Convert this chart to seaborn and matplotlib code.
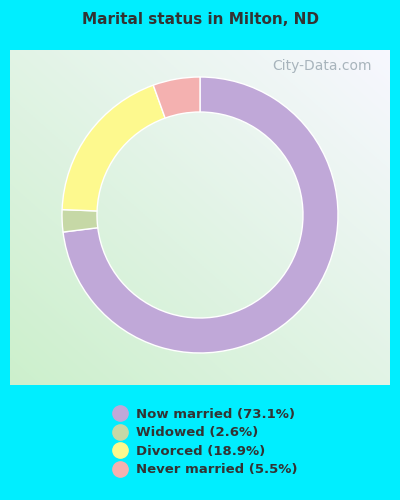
import numpy as np
import matplotlib.pyplot as plt
import seaborn as sns
from matplotlib.lines import Line2D

sns.set_theme(style="white")
plt.rcParams['font.family'] = ['DejaVu Sans']

labels = ["Now married", "Widowed", "Divorced", "Never married"]
shares = [73.1, 2.6, 18.9, 5.5]
colors = ["#c0a8d8", "#c6d8a6", "#fdf98e", "#f4b1b0"]

W, H = 400, 500
fig = plt.figure(figsize=(4, 5), dpi=100, facecolor="#00eeff")

# gradient panel: green bottom-left, near white top-right
bg = fig.add_axes([10 / W, 1 - 385 / H, 380 / W, 335 / H])
yy, xx = np.mgrid[0:1:200j, 0:1:200j]
t = np.clip((xx + yy) / 2, 0, 1)
c0 = np.array([0.80, 0.94, 0.80])
c1 = np.array([0.97, 0.97, 1.0])
img = c0[None, None, :] * (1 - t[..., None]) + c1[None, None, :] * t[..., None]
bg.imshow(img, origin="lower", aspect="auto", extent=[0, 1, 0, 1])
bg.set_axis_off()

# donut
r = 138
ax = fig.add_axes([(200 - r) / W, 1 - (215 + r) / H, 2 * r / W, 2 * r / H])
ax.pie(shares, colors=colors, startangle=90, counterclock=False,
       wedgeprops=dict(width=35 / 138, edgecolor="white", linewidth=1),
       radius=1)
ax.set_aspect("equal")
ax.set_xlim(-1, 1)
ax.set_ylim(-1, 1)

fig.text(0.5, 1 - 20 / H, "Marital status in Milton, ND", ha="center", va="center",
         fontsize=11, fontweight="bold", color="#333333")
fig.text(372 / W, 1 - 66 / H, "City-Data.com", ha="right", va="center",
         fontsize=10, color="#a8b4bc")

handles = [Line2D([], [], marker="o", linestyle="", markersize=11,
                  markerfacecolor=c, markeredgecolor=c) for c in colors]
leg_labels = [f"{l} ({s}%)" for l, s in zip(labels, shares)]
fig.legend(handles, leg_labels, loc="upper left", bbox_to_anchor=(95 / W, 1 - 396 / H),
           frameon=False, handletextpad=0.2, labelspacing=0.42,
           prop=dict(size=9.5, weight="bold"), labelcolor="#333333")

fig.savefig("out.png", dpi=100, facecolor=fig.get_facecolor())
